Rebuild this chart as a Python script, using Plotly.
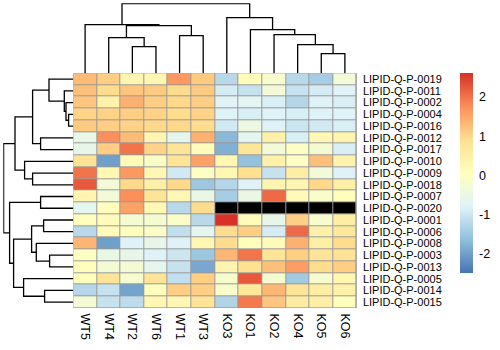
import math
import plotly.graph_objects as go

# ---------------- data ----------------
samples = ["WT5", "WT4", "WT2", "WT6", "WT1", "WT3", "KO3", "KO1", "KO2", "KO4", "KO5", "KO6"]
lipids = ["LIPID-Q-P-0019", "LIPID-Q-P-0011", "LIPID-Q-P-0002", "LIPID-Q-P-0004",
          "LIPID-Q-P-0016", "LIPID-Q-P-0012", "LIPID-Q-P-0017", "LIPID-Q-P-0010",
          "LIPID-Q-P-0009", "LIPID-Q-P-0018", "LIPID-Q-P-0007", "LIPID-Q-P-0020",
          "LIPID-Q-P-0001", "LIPID-Q-P-0006", "LIPID-Q-P-0008", "LIPID-Q-P-0003",
          "LIPID-Q-P-0013", "LIPID-Q-P-0005", "LIPID-Q-P-0014", "LIPID-Q-P-0015"]
NA = float("nan")
zscores = [
    [1.30, 1.10, 0.35, 0.30, 1.65, 1.15, -1.20, 0.15, -0.15, -1.20, -1.40, -0.30],
    [1.25, 0.95, 1.20, 1.15, 0.95, 1.15, -0.90, -1.05, -0.30, -1.05, -0.90, -0.75],
    [1.20, 0.45, 1.40, 1.10, 1.00, 1.10, -0.75, -0.70, -0.85, -1.25, -0.80, -0.85],
    [1.05, 1.05, 1.10, 1.05, 0.95, 1.05, -0.80, -0.85, -0.80, -0.85, -0.80, -0.80],
    [1.15, 1.10, 1.05, 1.00, 1.00, 0.95, -0.95, -0.45, -0.80, -1.00, -0.95, -0.85],
    [-0.50, 1.75, 1.30, 0.35, -0.60, 1.40, -1.70, -0.65, 0.45, -0.85, 0.30, 0.35],
    [-0.55, 1.10, 2.00, 1.05, 0.80, 0.15, -1.80, 0.75, -0.30, 0.00, -0.20, -0.85],
    [0.85, -2.00, 0.20, -0.05, 0.80, 1.55, 0.30, -1.60, 0.45, 0.00, 1.25, 0.40],
    [2.00, 0.30, 1.65, 0.30, -0.95, 0.00, 0.30, 0.90, -1.05, 0.55, -0.30, -0.80],
    [2.25, -0.30, 1.00, 0.50, 1.00, -1.50, -1.25, -0.75, 0.35, 0.35, 1.00, 0.50],
    [0.35, -0.30, 1.75, 0.80, 0.25, -0.50, -1.40, -0.50, 2.10, 0.20, -0.10, 0.10],
    [-0.65, 0.10, 1.55, 0.25, -1.20, 0.95, NA, NA, NA, NA, NA, NA],
    [0.10, 0.15, -0.20, -0.20, -0.05, -1.20, 2.60, 0.15, -0.55, 1.10, -0.15, 0.55],
    [-1.20, 0.15, 0.10, -0.05, -1.10, -0.65, 0.95, 1.10, -0.90, 2.10, 0.45, 0.70],
    [1.35, -2.00, -0.80, -0.55, -0.80, 0.30, 0.95, 0.10, 0.15, 1.40, 0.50, 0.95],
    [0.00, -0.50, -0.55, -0.80, -1.00, -1.50, 1.35, 2.00, 0.80, 1.10, 0.80, 0.85],
    [0.10, -0.25, -0.25, -0.60, -1.05, -1.90, 0.35, 0.90, 1.25, 1.60, 0.95, 1.10],
    [0.10, 0.80, -0.15, 0.80, -1.10, 1.10, -0.15, 2.25, -0.20, -1.45, -0.15, 0.30],
    [-1.25, -1.05, -1.95, 0.10, 1.10, 1.10, -0.10, 0.70, 1.35, 0.80, 0.55, 0.45],
    [-0.25, -1.05, -1.15, 0.30, 0.30, 0.80, -1.30, 1.95, 1.20, 0.60, 0.50, 0.10],
]
# hierarchical clustering (scipy-like: leaves 0..n-1 in display order, merge k -> id n+k)
col_merges = [(2, 3, 26.7), (1, 12, 35.7), (4, 5, 37.7), (13, 14, 47.7), (0, 15, 48.7),
              (10, 11, 19.7), (9, 17, 28.7), (8, 18, 38.7), (7, 19, 43.7), (6, 20, 55.7),
              (16, 21, 69.7)]
row_merges = [(3, 4, 4.7), (2, 20, 7.3), (1, 21, 9.0), (0, 22, 24.3), (5, 6, 32.7),
              (23, 24, 40.7), (8, 9, 40.7), (7, 26, 48.7), (25, 27, 58.3), (10, 11, 32.7),
              (12, 13, 29.7), (15, 16, 23.7), (14, 31, 37.0), (30, 32, 41.7), (18, 19, 28.7),
              (17, 34, 49.7), (33, 35, 59.7), (29, 36, 63.7), (28, 37, 69.7)]
legend_ticks = [-2, -1, 0, 1, 2]
z_low, z_high = -2.48, 2.62

palette = ["#4575B4", "#91BFDB", "#E0F3F8", "#FFFFBF", "#FEE090", "#FC8D59", "#D73027"]
colorscale = [[i / (len(palette) - 1), c] for i, c in enumerate(palette)]

W, H = 500, 350
hm_x0, hm_x1 = 73.3, 356.7
hm_y0, hm_y1 = 73.3, 308.0
dend_far = 3.3
FONT = "Liberation Sans, Arial, sans-serif"


def dendro_segments(n, merges):
    pos = {i: float(i) for i in range(n)}
    hgt = {i: 0.0 for i in range(n)}
    xs, ys = [], []
    for k, (a, b, h) in enumerate(merges):
        xs += [pos[a], pos[a], pos[b], pos[b], None]
        ys += [hgt[a], h, h, hgt[b], None]
        pos[n + k] = (pos[a] + pos[b]) / 2
        hgt[n + k] = h
    return xs, ys


fig = go.Figure()

# grey border background under the heatmap
fig.add_shape(type="rect", xref="x", yref="y", x0=-0.5, x1=len(samples) - 0.5,
              y0=-0.5, y1=len(lipids) - 0.5, fillcolor="#999999",
              line=dict(color="#999999", width=1), layer="below")

fig.add_trace(go.Heatmap(
    z=zscores, x=list(range(len(samples))), y=list(range(len(lipids))),
    colorscale=colorscale, zmin=z_low, zmax=z_high, xgap=1, ygap=1,
    hoverongaps=False,
    colorbar=dict(x=460 / W, xanchor="left", xpad=0, y=1 - 72.7 / H, yanchor="top", ypad=0,
                  len=200, lenmode="pixels", thickness=13, thicknessmode="pixels",
                  outlinewidth=0, tickvals=legend_ticks, ticktext=[str(t) for t in legend_ticks],
                  ticks="outside", ticklen=4, tickcolor="rgba(0,0,0,0)",
                  tickfont=dict(family=FONT, size=12.5, color="black")),
))
na_mask = [[1 if (isinstance(v, float) and math.isnan(v)) else NA for v in row] for row in zscores]
fig.add_trace(go.Heatmap(
    z=na_mask, x=list(range(len(samples))), y=list(range(len(lipids))),
    colorscale=[[0, "black"], [1, "black"]], showscale=False, xgap=1, ygap=1,
    hoverongaps=False,
))

cx, cy = dendro_segments(len(samples), col_merges)
fig.add_trace(go.Scatter(x=cx, y=cy, mode="lines", line=dict(color="black", width=1.3),
                         xaxis="x2", yaxis="y2", showlegend=False, hoverinfo="skip"))
ry, rx = dendro_segments(len(lipids), row_merges)
fig.add_trace(go.Scatter(x=rx, y=ry, mode="lines", line=dict(color="black", width=1.3),
                         xaxis="x3", yaxis="y3", showlegend=False, hoverinfo="skip"))

hx = [hm_x0 / W, hm_x1 / W]
hy = [1 - hm_y1 / H, 1 - hm_y0 / H]
fig.update_layout(
    width=W, height=H, margin=dict(l=0, r=0, t=0, b=0),
    paper_bgcolor="white", plot_bgcolor="white", showlegend=False,
    xaxis=dict(domain=hx, range=[-0.5, len(samples) - 0.5], tickvals=list(range(len(samples))),
               ticktext=samples, tickangle=90, tickfont=dict(family=FONT, size=12.5, color="black"),
               showgrid=False, zeroline=False,
               ticks="outside", ticklen=2, tickcolor="rgba(0,0,0,0)", showline=False),
    yaxis=dict(domain=hy, range=[len(lipids) - 0.5, -0.5], tickvals=list(range(len(lipids))),
               ticktext=lipids, side="right", tickfont=dict(family=FONT, size=11, color="black"),
               showgrid=False, zeroline=False,
               ticks="outside", ticklen=3, tickcolor="rgba(0,0,0,0)", showline=False),
    xaxis2=dict(domain=hx, range=[-0.5, len(samples) - 0.5], visible=False),
    yaxis2=dict(domain=[1 - hm_y0 / H, 1 - dend_far / H], range=[0, hm_y0 - dend_far],
                visible=False),
    xaxis3=dict(domain=[dend_far / W, hm_x0 / W], range=[hm_x0 - dend_far, 0], visible=False),
    yaxis3=dict(domain=hy, range=[len(lipids) - 0.5, -0.5], visible=False),
)
fig.write_html("out.html")
